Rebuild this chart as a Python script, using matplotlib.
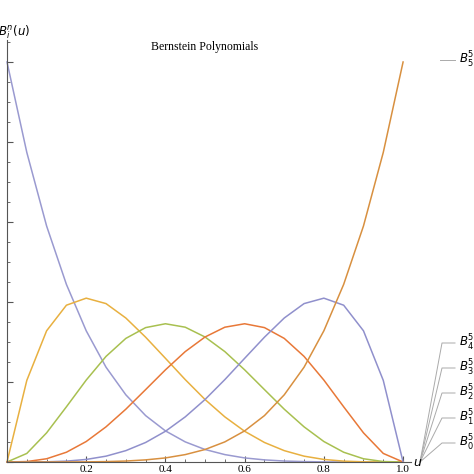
import matplotlib
matplotlib.use("Agg")
import matplotlib.pyplot as plt
from matplotlib.ticker import MultipleLocator

u = [0.0, 0.05, 0.1, 0.15, 0.2, 0.25, 0.3, 0.35, 0.4, 0.45, 0.5,
     0.55, 0.6, 0.65, 0.7, 0.75, 0.8, 0.85, 0.9, 0.95, 1.0]
b0_half = [1.0, 0.774, 0.590, 0.444, 0.328, 0.237, 0.168, 0.116, 0.0778, 0.0503, 0.03125]
b1_half = [0.0, 0.204, 0.328, 0.392, 0.4096, 0.396, 0.360, 0.312, 0.2592, 0.206, 0.15625]
b2_half = [0.0, 0.0214, 0.0729, 0.138, 0.2048, 0.264, 0.309, 0.336, 0.3456, 0.337, 0.3125]
b3_half = [0.0, 0.0011, 0.0081, 0.0244, 0.0512, 0.0879, 0.132, 0.181, 0.2304, 0.276, 0.3125]
b4_half = [0.0, 0.0, 0.00045, 0.00215, 0.0064, 0.0146, 0.0284, 0.0488, 0.0768, 0.1128, 0.15625]
b5_half = [0.0, 0.0, 0.00001, 0.0001, 0.0003, 0.001, 0.0024, 0.0053, 0.0102, 0.0185, 0.03125]

def full(first, mirror):
    return first + mirror[::-1][1:]

B = [full(b0_half, b5_half), full(b1_half, b4_half), full(b2_half, b3_half),
     full(b3_half, b2_half), full(b4_half, b1_half), full(b5_half, b0_half)]
colors = ["#9a9ad0", "#e8b040", "#a8c050", "#e87838", "#9090cc", "#d89040"]
labels = ["$B_0^5$", "$B_1^5$", "$B_2^5$", "$B_3^5$", "$B_4^5$", "$B_5^5$"]
label_y = [443, 418, 393, 368, 343, 60]  # pixel rows

fig = plt.figure(figsize=(4.74, 4.74), dpi=100)
W = H = 474
ax = fig.add_axes([7/W, 12/H, 404/W, 422/H])
for y, c in zip(B, colors):
    ax.plot(u, y, color=c, lw=1.1, clip_on=False, solid_joinstyle="round")
ax.set_xlim(0, 1.02)
ax.set_ylim(0, 1.055)
for s in ["top", "right"]:
    ax.spines[s].set_visible(False)
for s in ["left", "bottom"]:
    ax.spines[s].set_color("#555555")
    ax.spines[s].set_linewidth(0.8)
ax.xaxis.set_major_locator(MultipleLocator(0.2))
ax.xaxis.set_minor_locator(MultipleLocator(0.05))
ax.yaxis.set_major_locator(MultipleLocator(0.2))
ax.yaxis.set_minor_locator(MultipleLocator(0.05))
ax.set_yticklabels([])
ax.set_xticks([0.2, 0.4, 0.6, 0.8, 1.0])
ax.set_xticklabels(["0.2", "0.4", "0.6", "0.8", "1.0"], family="Liberation Serif", fontsize=8)
ax.tick_params(which="both", direction="in", color="#555555", pad=2)
ax.tick_params(which="major", length=4)
ax.tick_params(which="minor", length=2)

fig.text(205/W, 1 - 47/H, "Bernstein Polynomials", family="Liberation Serif", fontsize=8.5, ha="center", va="center")
fig.text(-2/W, 1 - 32/H, "$B_i^n(u)$", fontsize=8.5, ha="left", va="center")
fig.text(418/W, 1 - 462/H, "$u$", fontsize=9, ha="center", va="center")

for lab, py in zip(labels, label_y):
    fig.text(459/W, 1 - py/H, lab, fontsize=8.5, ha="left", va="center")
    if py < 100:
        fig.add_artist(plt.Line2D([440/W, 455/W], [1 - py/H, 1 - py/H], color="#aaaaaa", lw=0.7))
    else:
        fig.add_artist(plt.Line2D([420/W, 442/W, 455/W], [1 - 462/H, 1 - py/H, 1 - py/H], color="#aaaaaa", lw=0.7))

fig.savefig("out.png", dpi=100)
